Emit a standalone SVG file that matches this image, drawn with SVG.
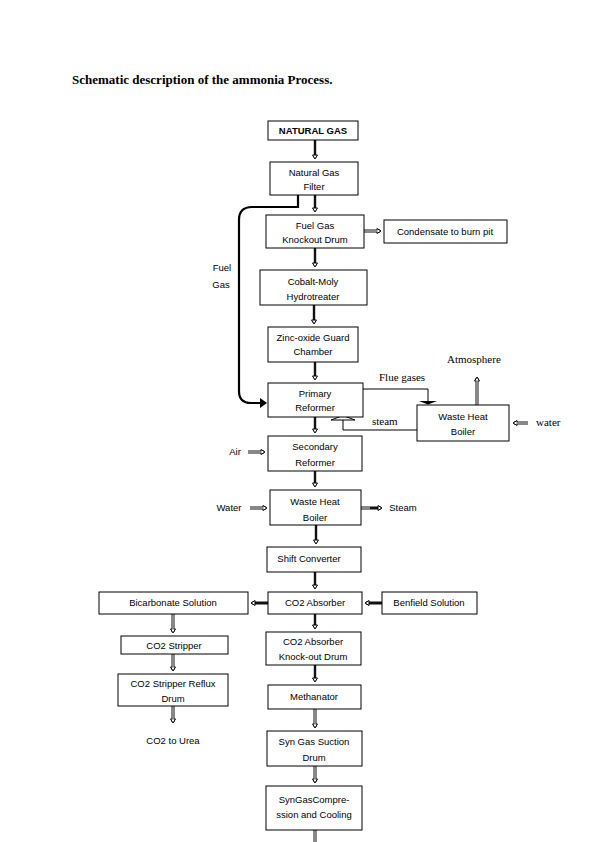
<svg xmlns="http://www.w3.org/2000/svg" width="595" height="842" viewBox="0 0 595 842">
<defs>
<style>
.box{fill:#fff;stroke:#000;stroke-width:1}
.t{font-family:"Liberation Sans",Arial,sans-serif;font-size:9.5px;fill:#000;text-anchor:middle}
.s{font-family:"Liberation Serif","Times New Roman",serif;font-size:11px;fill:#000}
.v{fill:none;stroke:#111;stroke-width:2.4}
.o{fill:none;stroke:#111;stroke-width:3}
.i{fill:none;stroke:#fff;stroke-width:1}
.th{fill:none;stroke:#000;stroke-width:1}
</style>
<marker id="ah" markerUnits="userSpaceOnUse" markerWidth="8" markerHeight="8" refX="4" refY="4" orient="auto">
<path d="M1,1.5 L5,4 L1,6.5 Z" fill="#fff" stroke="#000" stroke-width="1"/>
</marker>
<marker id="fh" markerUnits="userSpaceOnUse" markerWidth="10" markerHeight="12" refX="2" refY="6" orient="auto">
<path d="M0,1 L7,6 L0,11 Z" fill="#000"/>
</marker>
</defs>
<rect width="595" height="842" fill="#fff"/>
<text x="72" y="84" font-family="Liberation Serif,'Times New Roman',serif" font-weight="bold" font-size="13px">Schematic description of the ammonia Process.</text>

<g id="connectors">
<path class="v" d="M315,140 V158" marker-end="url(#ah)"/>
<path class="v" d="M315,195 V211" marker-end="url(#ah)"/>
<path class="o" d="M364,231 H380" marker-end="url(#ah)"/><path class="i" d="M364,231 H378"/>
<path class="v" d="M315,248 V266" marker-end="url(#ah)"/>
<path class="v" d="M314,305 V323" marker-end="url(#ah)"/>
<path class="v" d="M315,362 V379" marker-end="url(#ah)"/>
<path d="M298,195 V207 H252 Q239,207 239,220 V391 Q239,403 251,403 H262" fill="none" stroke="#000" stroke-width="2.2" marker-end="url(#fh)"/>
<path class="th" d="M363,389 H428 V401"/>
<path d="M419,401 H437 L428,404.5 Z" fill="#000"/>
<path class="th" d="M417,430 H343 V420"/>
<path d="M331,420 H355 L343,415.5 Z" fill="#fff" stroke="#000" stroke-width="1"/>
<path class="o" d="M477,405 V378" marker-end="url(#ah)"/><path class="i" d="M477,405 V380"/>
<path class="o" d="M528,423 H514" marker-end="url(#ah)"/><path class="i" d="M528,423 H516"/>
<path class="v" d="M315,417 V432" marker-end="url(#ah)"/>
<path class="o" d="M248,452 H264" marker-end="url(#ah)"/><path class="i" d="M248,452 H262"/>
<path class="v" d="M315,471 V486" marker-end="url(#ah)"/>
<path class="o" d="M250,508 H266" marker-end="url(#ah)"/><path class="i" d="M250,508 H264"/>
<path class="o" d="M361,508 H381" marker-end="url(#ah)"/><path class="i" d="M361,508 H370"/>
<path class="v" d="M316,525 V543" marker-end="url(#ah)"/>
<path class="v" d="M315,572 V588" marker-end="url(#ah)"/>
<path class="o" d="M382,603 H366" marker-end="url(#ah)"/>
<path class="o" d="M268,603 H252" marker-end="url(#ah)"/>
<path class="v" d="M315,614 V628" marker-end="url(#ah)"/>
<path class="o" d="M173,614 V632" marker-end="url(#ah)"/><path class="i" d="M173,614 V630"/>
<path class="o" d="M173,654 V670" marker-end="url(#ah)"/><path class="i" d="M173,654 V668"/>
<path class="o" d="M173,706 V722" marker-end="url(#ah)"/><path class="i" d="M173,706 V720"/>
<path class="v" d="M315,665 V681" marker-end="url(#ah)"/>
<path class="o" d="M315,709 V727" marker-end="url(#ah)"/><path class="i" d="M315,709 V725"/>
<path class="o" d="M315,766 V782" marker-end="url(#ah)"/><path class="i" d="M315,766 V780"/>
<path class="o" d="M315,830 V842"/><path class="i" d="M315,830 V842"/>
</g>

<g id="natural-gas"><rect class="box" x="268" y="121" width="90" height="19" stroke-width="1.5"/><text class="t" x="313" y="134" font-weight="bold" font-size="9px">NATURAL GAS</text></g>
<g id="ng-filter"><rect class="box" x="270" y="162" width="88" height="33"/><text class="t" x="314" y="176">Natural Gas</text><text class="t" x="314" y="190">Filter</text></g>
<g id="knockout"><rect class="box" x="266" y="215" width="98" height="33"/><text class="t" x="315" y="229">Fuel Gas</text><text class="t" x="315" y="243">Knockout Drum</text></g>
<g id="condensate"><rect class="box" x="384" y="220" width="123" height="23"/><text class="t" x="445" y="235">Condensate to burn pit</text></g>
<g id="fuel-gas-label"><text class="t" x="222" y="271">Fuel</text><text class="t" x="221" y="288">Gas</text></g>
<g id="cobalt"><rect class="box" x="260" y="270" width="107" height="35"/><text class="t" x="313" y="285">Cobalt-Moly</text><text class="t" x="313" y="300">Hydrotreater</text></g>
<g id="zinc"><rect class="box" x="268" y="327" width="90" height="35"/><text class="t" x="313" y="341">Zinc-oxide Guard</text><text class="t" x="313" y="355">Chamber</text></g>
<g id="primary"><rect class="box" x="268" y="383" width="95" height="34"/><text class="t" x="315" y="397">Primary</text><text class="t" x="315" y="411">Reformer</text></g>
<g id="whb1"><rect class="box" x="417" y="405" width="92" height="36"/><text class="t" x="463" y="420">Waste Heat</text><text class="t" x="463" y="435">Boiler</text></g>
<g id="labels1">
<text class="s" x="379" y="381">Flue gases</text>
<text class="s" x="447" y="363">Atmosphere</text>
<text class="s" x="372" y="425">steam</text>
<text class="s" x="536" y="426">water</text>
</g>
<g id="secondary"><rect class="box" x="268" y="436" width="94" height="35"/><text class="t" x="315" y="450">Secondary</text><text class="t" x="315" y="466">Reformer</text><text class="t" x="235" y="455">Air</text></g>
<g id="whb2"><rect class="box" x="270" y="490" width="91" height="35"/><text class="t" x="315" y="505">Waste Heat</text><text class="t" x="315" y="521">Boiler</text><text class="t" x="229" y="511">Water</text><text class="t" x="403" y="511">Steam</text></g>
<g id="shift"><rect class="box" x="267" y="547" width="94" height="25"/><text class="t" x="309" y="562">Shift Converter</text></g>
<g id="co2abs"><rect class="box" x="268" y="592" width="94" height="22"/><text class="t" x="315" y="606">CO2 Absorber</text></g>
<g id="benfield"><rect class="box" x="382" y="592" width="95" height="22"/><text class="t" x="429" y="606">Benfield Solution</text></g>
<g id="bicarbonate"><rect class="box" x="99" y="592" width="149" height="22"/><text class="t" x="173" y="606">Bicarbonate Solution</text></g>
<g id="stripper"><rect class="box" x="121" y="636" width="107" height="18"/><text class="t" x="174" y="649">CO2 Stripper</text></g>
<g id="reflux"><rect class="box" x="118" y="674" width="110" height="32"/><text class="t" x="173" y="687">CO2 Stripper Reflux</text><text class="t" x="173" y="702">Drum</text></g>
<g id="urea"><text class="t" x="173" y="744">CO2 to Urea</text></g>
<g id="abs-ko"><rect class="box" x="266" y="632" width="95" height="33"/><text class="t" x="313" y="645">CO2 Absorber</text><text class="t" x="313" y="660">Knock-out Drum</text></g>
<g id="methanator"><rect class="box" x="268" y="685" width="93" height="24"/><text class="t" x="314" y="700">Methanator</text></g>
<g id="suction"><rect class="box" x="267" y="731" width="95" height="35"/><text class="t" x="314" y="745">Syn Gas Suction</text><text class="t" x="314" y="761">Drum</text></g>
<g id="compression"><rect class="box" x="266" y="786" width="96" height="44"/><text class="t" x="314" y="803">SynGasCompre-</text><text class="t" x="314" y="818">ssion and Cooling</text></g>
</svg>
